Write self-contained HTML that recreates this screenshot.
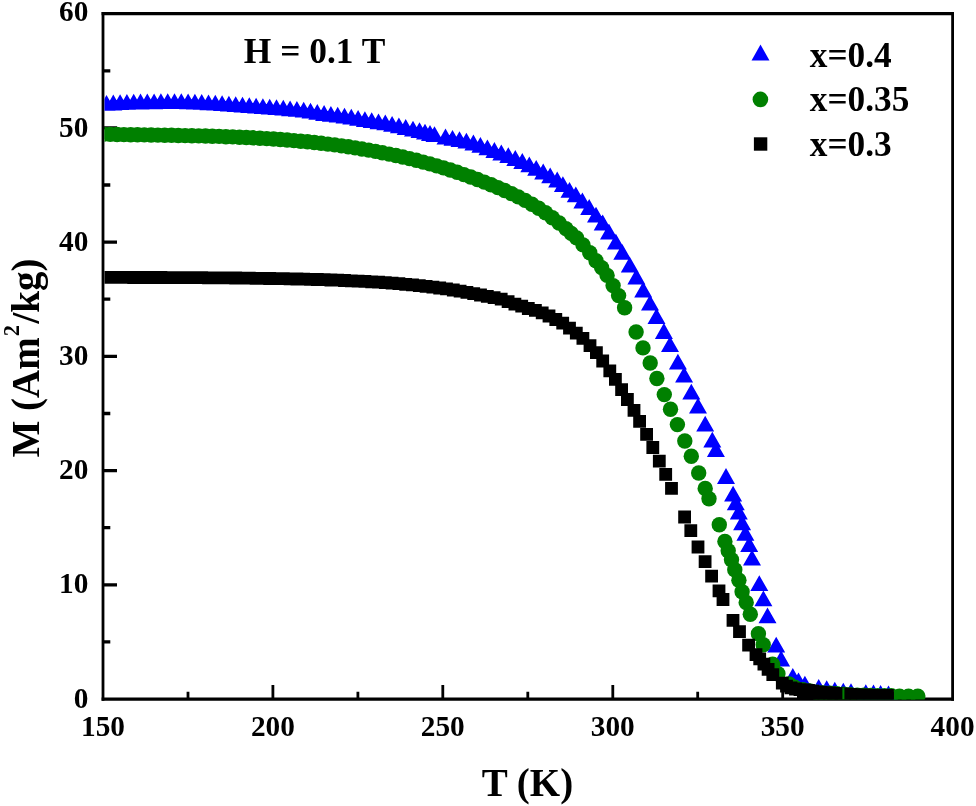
<!DOCTYPE html><html><head><meta charset="utf-8"><title>M-T curves</title><style>html,body{margin:0;padding:0;background:#fff}svg{display:block}</style></head><body><svg width="976" height="806" viewBox="0 0 976 806">
<rect width="976" height="806" fill="#fff"/>
<defs><clipPath id="c"><rect x="104.5" y="13.7" width="848" height="685.8"/></clipPath></defs>
<path d="M103 12.05V700.75M952.6 12.05V700.75M188 699v-7.3M272.9 699v-14M357.9 699v-7.3M442.8 699v-14M527.8 699v-7.3M612.8 699v-14M697.7 699v-7.3M782.7 699v-14M867.6 699v-7.3" stroke="#000" stroke-width="2.8" fill="none"/>
<path d="M101.6 13.7H954M101.6 699.1H954M103 641.9h7.3M103 584.8h14M103 527.7h7.3M103 470.6h14M103 413.5h7.3M103 356.4h14M103 299.2h7.3M103 242.1h14M103 185h7.3M103 127.9h14M103 70.8h7.3" stroke="#000" stroke-width="3.3" fill="none"/>
<g clip-path="url(#c)">
<path fill="#0000ff" d="M106.5 95l9 15.8h-18zM113.3 94.6l9 15.8h-18zM120.1 94.3l9 15.8h-18zM126.9 94l9 15.8h-18zM133.7 93.8l9 15.8h-18zM140.5 93.6l9 15.8h-18zM147.3 93.5l9 15.8h-18zM154.1 93.4l9 15.8h-18zM160.9 93.3l9 15.8h-18zM167.7 93.2l9 15.8h-18zM174.5 93.2l9 15.8h-18zM181.3 93.3l9 15.8h-18zM188.1 93.5l9 15.8h-18zM194.9 93.7l9 15.8h-18zM201.7 94l9 15.8h-18zM208.5 94.4l9 15.8h-18zM215.3 94.8l9 15.8h-18zM222.1 95.3l9 15.8h-18zM228.9 95.8l9 15.8h-18zM235.7 96.2l9 15.8h-18zM242.5 96.7l9 15.8h-18zM249.3 97.2l9 15.8h-18zM256.1 97.7l9 15.8h-18zM262.9 98.2l9 15.8h-18zM269.7 98.7l9 15.8h-18zM276.5 99.2l9 15.8h-18zM283.3 99.8l9 15.8h-18zM290.1 100.4l9 15.8h-18zM296.9 101l9 15.8h-18zM303.7 101.8l9 15.8h-18zM310.5 102.8l9 15.8h-18zM317.3 104l9 15.8h-18zM324.1 105.1l9 15.8h-18zM330.9 106l9 15.8h-18zM337.7 106.8l9 15.8h-18zM344.5 107.7l9 15.8h-18zM351.3 108.8l9 15.8h-18zM358.1 110l9 15.8h-18zM364.9 111.2l9 15.8h-18zM371.7 112.3l9 15.8h-18zM378.5 113.4l9 15.8h-18zM385.3 114.5l9 15.8h-18zM392.1 115.9l9 15.8h-18zM398.9 117.5l9 15.8h-18zM405.7 119.1l9 15.8h-18zM413 120.8l9 15.8h-18zM419.5 122.3l9 15.8h-18zM425 123.7l9 15.8h-18zM430 125.1l9 15.8h-18zM434.5 126.3l9 15.8h-18zM445.5 128.6l9 15.8h-18zM452.5 129.9l9 15.8h-18zM459.5 131.2l9 15.8h-18zM466.4 132.7l9 15.8h-18zM473.4 134.6l9 15.8h-18zM480.4 136.9l9 15.8h-18zM487.4 139.4l9 15.8h-18zM494.4 142.1l9 15.8h-18zM501.3 144.6l9 15.8h-18zM508.3 147.3l9 15.8h-18zM515.3 150.1l9 15.8h-18zM522.3 153.1l9 15.8h-18zM529.3 156.4l9 15.8h-18zM536.2 160l9 15.8h-18zM543.2 163.6l9 15.8h-18zM550.2 167.5l9 15.8h-18zM557.2 171.6l9 15.8h-18zM562.9 176.3l9 15.8h-18zM569.5 181.9l9 15.8h-18zM575.8 186.4l9 15.8h-18zM582.4 192.6l9 15.8h-18zM589.2 199.1l9 15.8h-18zM596 206.8l9 15.8h-18zM602.7 214.6l9 15.8h-18zM609 223.7l9 15.8h-18zM615.9 233.8l9 15.8h-18zM622.3 244l9 15.8h-18zM629.8 256.8l9 15.8h-18zM636.4 268.6l9 15.8h-18zM643.2 281.8l9 15.8h-18zM650 294.7l9 15.8h-18zM656.5 308.3l9 15.8h-18zM663.9 323.1l9 15.8h-18zM670 336.2l9 15.8h-18zM677.9 353.7l9 15.8h-18zM684.1 366.8l9 15.8h-18zM691.3 383.7l9 15.8h-18zM698 397.8l9 15.8h-18zM705.2 415.8l9 15.8h-18zM712.3 431.7l9 15.8h-18zM715.9 441.2l9 15.8h-18zM726 468.1l9 15.8h-18zM733.1 485.8l9 15.8h-18zM735.8 494.4l9 15.8h-18zM738.8 503.7l9 15.8h-18zM742.1 514.4l9 15.8h-18zM745.4 524.9l9 15.8h-18zM749.2 536.3l9 15.8h-18zM752 549.8l9 15.8h-18zM759.3 575.2l9 15.8h-18zM763.4 590.4l9 15.8h-18zM767.5 607.5l9 15.8h-18zM776.2 636.7l9 15.8h-18zM781.1 650.6l9 15.8h-18zM792.8 668.1l9 15.8h-18zM798.5 672.5l9 15.8h-18zM804.9 675.7l9 15.8h-18zM818.7 679l9 15.8h-18zM826.7 680.3l9 15.8h-18zM834.8 681.8l9 15.8h-18zM843.3 682.7l9 15.8h-18zM851 683.2l9 15.8h-18zM865.8 684.2l9 15.8h-18zM873.5 684.5l9 15.8h-18zM880.6 684.9l9 15.8h-18zM888.5 685.4l9 15.8h-18z"/>
<g fill="#008000"><circle cx="103.5" cy="134.2" r="7.7"/><circle cx="110.3" cy="134.4" r="7.7"/><circle cx="117.1" cy="134.5" r="7.7"/><circle cx="123.9" cy="134.6" r="7.7"/><circle cx="130.7" cy="134.7" r="7.7"/><circle cx="137.5" cy="134.8" r="7.7"/><circle cx="144.3" cy="134.9" r="7.7"/><circle cx="151.1" cy="135" r="7.7"/><circle cx="157.9" cy="135.1" r="7.7"/><circle cx="164.7" cy="135.2" r="7.7"/><circle cx="171.5" cy="135.3" r="7.7"/><circle cx="178.3" cy="135.5" r="7.7"/><circle cx="185.1" cy="135.6" r="7.7"/><circle cx="191.9" cy="135.7" r="7.7"/><circle cx="198.7" cy="135.9" r="7.7"/><circle cx="205.5" cy="136" r="7.7"/><circle cx="212.3" cy="136.2" r="7.7"/><circle cx="219.1" cy="136.4" r="7.7"/><circle cx="225.9" cy="136.7" r="7.7"/><circle cx="232.7" cy="136.9" r="7.7"/><circle cx="239.5" cy="137.2" r="7.7"/><circle cx="246.3" cy="137.5" r="7.7"/><circle cx="253.1" cy="137.8" r="7.7"/><circle cx="259.9" cy="138.2" r="7.7"/><circle cx="266.7" cy="138.6" r="7.7"/><circle cx="273.5" cy="139" r="7.7"/><circle cx="280.3" cy="139.5" r="7.7"/><circle cx="287.1" cy="140" r="7.7"/><circle cx="293.9" cy="140.6" r="7.7"/><circle cx="300.7" cy="141.2" r="7.7"/><circle cx="307.5" cy="141.8" r="7.7"/><circle cx="314.3" cy="142.5" r="7.7"/><circle cx="321.1" cy="143.3" r="7.7"/><circle cx="327.9" cy="144.1" r="7.7"/><circle cx="334.7" cy="144.9" r="7.7"/><circle cx="341.5" cy="145.9" r="7.7"/><circle cx="348.3" cy="146.8" r="7.7"/><circle cx="355.1" cy="147.9" r="7.7"/><circle cx="361.9" cy="149" r="7.7"/><circle cx="368.7" cy="150.1" r="7.7"/><circle cx="375.5" cy="151.4" r="7.7"/><circle cx="382.3" cy="152.7" r="7.7"/><circle cx="389.1" cy="154.1" r="7.7"/><circle cx="395.9" cy="155.5" r="7.7"/><circle cx="402.7" cy="157" r="7.7"/><circle cx="409.5" cy="158.6" r="7.7"/><circle cx="416.3" cy="160.3" r="7.7"/><circle cx="423.1" cy="162.1" r="7.7"/><circle cx="429.9" cy="163.9" r="7.7"/><circle cx="436.7" cy="165.9" r="7.7"/><circle cx="443.5" cy="167.9" r="7.7"/><circle cx="450.3" cy="170" r="7.7"/><circle cx="457.1" cy="172.3" r="7.7"/><circle cx="463.9" cy="174.6" r="7.7"/><circle cx="470.7" cy="177" r="7.7"/><circle cx="477.5" cy="179.5" r="7.7"/><circle cx="484.3" cy="182.1" r="7.7"/><circle cx="491.1" cy="184.8" r="7.7"/><circle cx="497.9" cy="187.6" r="7.7"/><circle cx="504.7" cy="190.5" r="7.7"/><circle cx="511.5" cy="193.6" r="7.7"/><circle cx="518.3" cy="196.9" r="7.7"/><circle cx="525.1" cy="200.4" r="7.7"/><circle cx="531.9" cy="204.2" r="7.7"/><circle cx="538.7" cy="208.3" r="7.7"/><circle cx="545.5" cy="212.8" r="7.7"/><circle cx="552.3" cy="217.7" r="7.7"/><circle cx="559.1" cy="223" r="7.7"/><circle cx="565.9" cy="228.6" r="7.7"/><circle cx="571.2" cy="233.4" r="7.7"/><circle cx="576.6" cy="237.9" r="7.7"/><circle cx="583" cy="244.9" r="7.7"/><circle cx="589.8" cy="252.7" r="7.7"/><circle cx="596" cy="260.8" r="7.7"/><circle cx="601.6" cy="267.6" r="7.7"/><circle cx="607.1" cy="275.4" r="7.7"/><circle cx="613.1" cy="285.6" r="7.7"/><circle cx="618.6" cy="295.6" r="7.7"/><circle cx="624.6" cy="307.7" r="7.7"/><circle cx="636.1" cy="332" r="7.7"/><circle cx="643" cy="347.9" r="7.7"/><circle cx="650.2" cy="363" r="7.7"/><circle cx="656.9" cy="378.5" r="7.7"/><circle cx="664.3" cy="394.6" r="7.7"/><circle cx="670.5" cy="409.3" r="7.7"/><circle cx="677.4" cy="424.6" r="7.7"/><circle cx="684.8" cy="441" r="7.7"/><circle cx="691.3" cy="456.2" r="7.7"/><circle cx="698.7" cy="473" r="7.7"/><circle cx="705.2" cy="488.5" r="7.7"/><circle cx="709" cy="498.8" r="7.7"/><circle cx="719.3" cy="524.8" r="7.7"/><circle cx="724.9" cy="541.5" r="7.7"/><circle cx="728.2" cy="550.8" r="7.7"/><circle cx="731.5" cy="559.8" r="7.7"/><circle cx="734.8" cy="569.7" r="7.7"/><circle cx="738.9" cy="580.3" r="7.7"/><circle cx="742.1" cy="591.8" r="7.7"/><circle cx="746.2" cy="602.5" r="7.7"/><circle cx="750.3" cy="614.3" r="7.7"/><circle cx="758.4" cy="633.7" r="7.7"/><circle cx="763.2" cy="644.8" r="7.7"/><circle cx="772.6" cy="664.3" r="7.7"/><circle cx="777.9" cy="673.7" r="7.7"/><circle cx="788.9" cy="683.9" r="7.7"/><circle cx="794.6" cy="687.2" r="7.7"/><circle cx="802.8" cy="689.7" r="7.7"/><circle cx="809.6" cy="690.9" r="7.7"/><circle cx="816.4" cy="692.2" r="7.7"/><circle cx="823.2" cy="692.9" r="7.7"/><circle cx="830" cy="693.3" r="7.7"/><circle cx="836.8" cy="693.8" r="7.7"/><circle cx="843.6" cy="694.2" r="7.7"/><circle cx="850.4" cy="694.7" r="7.7"/><circle cx="857.2" cy="695.1" r="7.7"/><circle cx="864" cy="695.3" r="7.7"/><circle cx="870.8" cy="695.5" r="7.7"/><circle cx="877.6" cy="695.7" r="7.7"/><circle cx="884.4" cy="695.8" r="7.7"/><circle cx="891.2" cy="695.8" r="7.7"/><circle cx="899.5" cy="696.1" r="7.7"/><circle cx="908.5" cy="696.1" r="7.7"/><circle cx="917.8" cy="696.1" r="7.7"/></g>
<path fill="#000" d="M100.1 271h12.8v12.8h-12.8zM106.9 271h12.8v12.8h-12.8zM113.7 271h12.8v12.8h-12.8zM120.5 271h12.8v12.8h-12.8zM127.3 271.1h12.8v12.8h-12.8zM134.1 271.1h12.8v12.8h-12.8zM140.9 271.1h12.8v12.8h-12.8zM147.7 271.1h12.8v12.8h-12.8zM154.5 271.1h12.8v12.8h-12.8zM161.3 271.2h12.8v12.8h-12.8zM168.1 271.2h12.8v12.8h-12.8zM174.9 271.2h12.8v12.8h-12.8zM181.7 271.2h12.8v12.8h-12.8zM188.5 271.3h12.8v12.8h-12.8zM195.3 271.3h12.8v12.8h-12.8zM202.1 271.4h12.8v12.8h-12.8zM208.9 271.4h12.8v12.8h-12.8zM215.7 271.5h12.8v12.8h-12.8zM222.5 271.5h12.8v12.8h-12.8zM229.3 271.6h12.8v12.8h-12.8zM236.1 271.7h12.8v12.8h-12.8zM242.9 271.8h12.8v12.8h-12.8zM249.7 271.9h12.8v12.8h-12.8zM256.5 272h12.8v12.8h-12.8zM263.3 272.1h12.8v12.8h-12.8zM270.1 272.2h12.8v12.8h-12.8zM276.9 272.3h12.8v12.8h-12.8zM283.7 272.5h12.8v12.8h-12.8zM290.5 272.6h12.8v12.8h-12.8zM297.3 272.8h12.8v12.8h-12.8zM304.1 273h12.8v12.8h-12.8zM310.9 273.1h12.8v12.8h-12.8zM317.7 273.3h12.8v12.8h-12.8zM324.5 273.6h12.8v12.8h-12.8zM331.3 273.8h12.8v12.8h-12.8zM338.1 274.1h12.8v12.8h-12.8zM344.9 274.4h12.8v12.8h-12.8zM351.7 274.7h12.8v12.8h-12.8zM358.5 275h12.8v12.8h-12.8zM365.3 275.4h12.8v12.8h-12.8zM372.1 275.8h12.8v12.8h-12.8zM378.9 276.3h12.8v12.8h-12.8zM385.7 276.8h12.8v12.8h-12.8zM392.5 277.3h12.8v12.8h-12.8zM399.3 277.9h12.8v12.8h-12.8zM406.1 278.5h12.8v12.8h-12.8zM412.9 279.2h12.8v12.8h-12.8zM419.7 279.9h12.8v12.8h-12.8zM426.5 280.7h12.8v12.8h-12.8zM433.3 281.6h12.8v12.8h-12.8zM440.1 282.5h12.8v12.8h-12.8zM446.9 283.6h12.8v12.8h-12.8zM453.7 284.8h12.8v12.8h-12.8zM460.5 286h12.8v12.8h-12.8zM467.3 287.3h12.8v12.8h-12.8zM474.1 288.6h12.8v12.8h-12.8zM480.9 289.9h12.8v12.8h-12.8zM487.7 291.3h12.8v12.8h-12.8zM494.8 292.8h12.8v12.8h-12.8zM501.7 295.3h12.8v12.8h-12.8zM508.5 297.8h12.8v12.8h-12.8zM515.3 299.7h12.8v12.8h-12.8zM521.9 302.1h12.8v12.8h-12.8zM529 304h12.8v12.8h-12.8zM535.8 306.5h12.8v12.8h-12.8zM542.6 309.6h12.8v12.8h-12.8zM549.4 313.1h12.8v12.8h-12.8zM556.3 316.8h12.8v12.8h-12.8zM563.1 321.7h12.8v12.8h-12.8zM569.9 326.7h12.8v12.8h-12.8zM576.5 331.9h12.8v12.8h-12.8zM583.6 339.2h12.8v12.8h-12.8zM590 346.3h12.8v12.8h-12.8zM596.3 354.6h12.8v12.8h-12.8zM603.4 364.5h12.8v12.8h-12.8zM609 372.9h12.8v12.8h-12.8zM615.2 383.2h12.8v12.8h-12.8zM621 393.1h12.8v12.8h-12.8zM627.6 404h12.8v12.8h-12.8zM633.2 414.9h12.8v12.8h-12.8zM640.2 428h12.8v12.8h-12.8zM646.4 441.1h12.8v12.8h-12.8zM652.9 454.7h12.8v12.8h-12.8zM659.3 467.9h12.8v12.8h-12.8zM665.1 482h12.8v12.8h-12.8zM678.2 510.6h12.8v12.8h-12.8zM684.4 524.2h12.8v12.8h-12.8zM691.6 540.6h12.8v12.8h-12.8zM698.7 555.2h12.8v12.8h-12.8zM705.2 569.7h12.8v12.8h-12.8zM712.6 584.4h12.8v12.8h-12.8zM716.6 593.1h12.8v12.8h-12.8zM726.6 613.9h12.8v12.8h-12.8zM733.1 625.2h12.8v12.8h-12.8zM742.2 638.7h12.8v12.8h-12.8zM749.6 648.2h12.8v12.8h-12.8zM753.3 652.4h12.8v12.8h-12.8zM757.5 657.7h12.8v12.8h-12.8zM761.7 663h12.8v12.8h-12.8zM766.4 668.2h12.8v12.8h-12.8zM775.9 676.7h12.8v12.8h-12.8zM780.1 679.8h12.8v12.8h-12.8zM784.6 681.4h12.8v12.8h-12.8zM789.1 682.6h12.8v12.8h-12.8zM793.6 683.3h12.8v12.8h-12.8zM797.9 683.6h12.8v12.8h-12.8zM802.1 684h12.8v12.8h-12.8zM806.3 684.8h12.8v12.8h-12.8zM810.5 685.5h12.8v12.8h-12.8zM814.7 686h12.8v12.8h-12.8zM818.9 686.3h12.8v12.8h-12.8zM823.1 686.6h12.8v12.8h-12.8zM827.3 686.9h12.8v12.8h-12.8zM831.5 687.2h12.8v12.8h-12.8zM835.7 687.4h12.8v12.8h-12.8zM839.9 687.7h12.8v12.8h-12.8zM844.1 688h12.8v12.8h-12.8zM848.3 688.2h12.8v12.8h-12.8zM852.5 688.5h12.8v12.8h-12.8zM856.7 688.6h12.8v12.8h-12.8zM860.9 688.7h12.8v12.8h-12.8zM865.1 688.9h12.8v12.8h-12.8zM869.3 689h12.8v12.8h-12.8zM873.5 689h12.8v12.8h-12.8zM877.7 689.1h12.8v12.8h-12.8zM881 689.1h12.8v12.8h-12.8z"/>
<rect x="797" y="692" width="96.8" height="8" fill="#000"/>
<rect x="842.4" y="687.5" width="2" height="12" fill="#008000"/>
</g>
<g font-family="'Liberation Serif',serif" font-weight="bold" fill="#000">
<g font-size="29.3" text-anchor="middle">
<text x="103" y="736.4">150</text>
<text x="272.9" y="736.4">200</text>
<text x="442.8" y="736.4">250</text>
<text x="612.8" y="736.4">300</text>
<text x="782.7" y="736.4">350</text>
<text x="952.6" y="736.4">400</text>
</g><g font-size="29.3" text-anchor="end">
<text x="88.3" y="707.6">0</text>
<text x="88.3" y="593.4">10</text>
<text x="88.3" y="479.2">20</text>
<text x="88.3" y="365">30</text>
<text x="88.3" y="250.7">40</text>
<text x="88.3" y="136.5">50</text>
<text x="88.3" y="21.1">60</text>
</g>
<text x="527.5" y="795.7" font-size="39" text-anchor="middle">T (K)</text>
<text transform="translate(39.4 358) rotate(-90)" font-size="39" text-anchor="middle">M (Am<tspan font-size="22.4" dy="-20.5" dx="1.2">2</tspan><tspan dy="20.5" dx="1.5">/kg)</tspan></text>
<text x="243.8" y="62.7" font-size="35.4">H = 0.1 T</text>
<text x="809.8" y="66.7" font-size="35.3">x=0.4</text>
<text x="809.8" y="111.2" font-size="35.3">x=0.35</text>
<text x="809.8" y="155.9" font-size="35.3">x=0.3</text>
</g>
<path fill="#0000ff" d="M760.5 44.6l9 15.8h-18z"/>
<circle cx="760.4" cy="99.4" r="7.8" fill="#008000"/>
<rect x="753.9" y="137.3" width="13.4" height="13.4" fill="#000"/>
</svg></body></html>
